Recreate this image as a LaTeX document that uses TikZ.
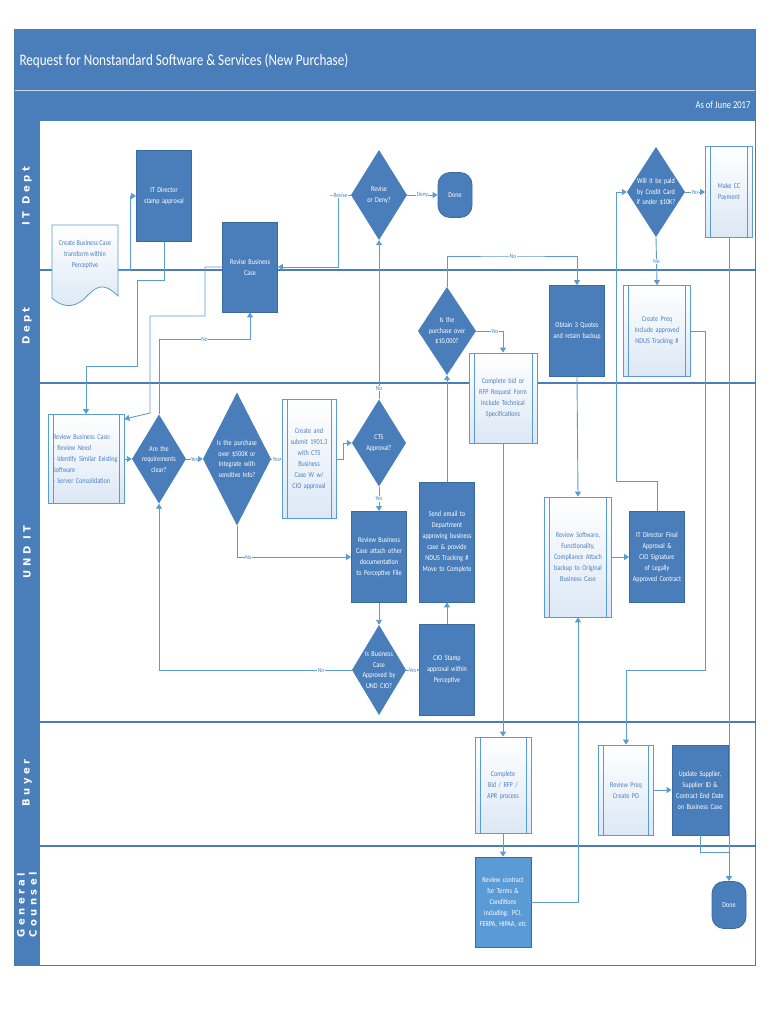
\documentclass[tikz,border=0pt]{standalone}
\usepackage{fontspec}
\setmainfont{Carlito}[FakeStretch=0.82]
\newfontfamily\lanefont{DejaVu Sans}
\usetikzlibrary{arrows.meta}
\definecolor{bar}{HTML}{4A7EBB}
\definecolor{dk}{HTML}{4A7EBB}
\definecolor{dkb}{HTML}{3A6A9F}
\definecolor{lc}{HTML}{5B9BD5}
\definecolor{ltb}{HTML}{DCE8F5}
\definecolor{txt}{HTML}{4F7FBF}
\definecolor{rcf}{HTML}{5B9BD5}
\begin{document}
\begin{tikzpicture}[x=1pt,y=-1pt,
 line/.style={draw=lc, line width=0.9pt},
 arr/.style={line, -{Triangle[width=6pt,length=5pt]}},
 lab/.style={fill=white, text=txt, font=\fontsize{6.5}{7}\selectfont, inner sep=0.5pt},
 dkbox/.style 2 args={rectangle, fill=dk, draw=dkb, line width=0.8pt, minimum width=#1, minimum height=#2, text width=#1-6pt, inner sep=1pt, text=white, align=center, font=\fontsize{7.5}{11}\selectfont},
 ltbox/.style 2 args={rectangle, draw=lc, line width=0.8pt, top color=white, bottom color=ltb, minimum width=#1, minimum height=#2, text width=#1-14pt, inner sep=1pt, text=txt, align=center, font=\fontsize{7.5}{11}\selectfont,
   path picture={\draw[lc,line width=0.7pt] ([xshift=5pt]path picture bounding box.north west) -- ([xshift=5pt]path picture bounding box.south west) ([xshift=-5pt]path picture bounding box.north east) -- ([xshift=-5pt]path picture bounding box.south east);}},
 dia/.style 2 args={rectangle, minimum width=#1, minimum height=#2, text width=#1-18pt, inner sep=0pt, text=white, align=center, font=\fontsize{7.5}{10.5}\selectfont,
   path picture={\fill[dk] (path picture bounding box.north) -- (path picture bounding box.east) -- (path picture bounding box.south) -- (path picture bounding box.west) -- cycle;}},
 term/.style 2 args={rectangle, rounded corners=12pt, fill=dk, draw=dkb, line width=0.8pt, minimum width=#1, minimum height=#2, text=white, font=\fontsize{7.5}{9}\selectfont},
 lane/.style={text=white, font=\lanefont\bfseries\fontsize{10}{12}\selectfont, rotate=90, align=center}
]
\useasboundingbox (0,0) rectangle (768,1024);
% frame and bars
\fill[bar] (14,30) rectangle (755,120);
\draw[white!70!bar, line width=0.8pt] (14,90) -- (755,90);
\fill[bar] (14,120) rectangle (40,965);
\draw[lc!80!black, line width=1pt] (14,30) rectangle (755,965);
\foreach \y in {120,270,383,722,846} \draw[bar, line width=1.3pt] (14,\y) -- (755,\y);
\node[anchor=west, text=white, font=\fontsize{16}{18}\selectfont] (title) at (16,61) {Request for Nonstandard Software \& Services (New Purchase)};
\node[anchor=east, text=white, font=\fontsize{10.5}{12}\selectfont] (asof) at (754,105) {As of June 2017};
\node[lane] (l1) at (27,196) {I T \ D e p t};
\node[lane] (l2) at (27,326) {D e p t};
\node[lane] (l3) at (27,552) {U N D \ I T};
\node[lane] (l4) at (27,783) {B u y e r};
\node[lane] (l5) at (27,905) {G e n e r a l\\C o u n s e l};

% document shape
\draw[lc, line width=0.8pt, top color=white, bottom color=ltb] (52,225) -- (118,225) -- (118,296) .. controls (102,280) and (95,288) .. (85,298) .. controls (73,310) and (60,306) .. (52,298) -- cycle;
\node[text=txt, align=center, font=\fontsize{7.5}{11}\selectfont] (cbc) at (85,255) {Create Business Case\\transform within\\Perceptive};
\coordinate (docR) at (118,270);

\node[dkbox={55pt}{91pt}] (itd) at (164,196) {IT Director\\stamp approval};
\node[dkbox={55pt}{90pt}] (rbc) at (250,267) {Revise Business\\Case};
\node[dia={56pt}{90pt}] (rod) at (379,195) {Revise or Deny?};
\node[term={34pt}{45pt}] (done1) at (455,195) {Done};
\node[dia={58pt}{90pt}] (will) at (656,192) {Will it be paid by Credit Card if under \$10K?};
\node[ltbox={47pt}{91pt}] (mcc) at (729,192) {Make CC Payment};

\node[dia={58pt}{88pt}] (p10) at (447,331) {Is the purchase over \$10,000?};
\node[dkbox={55pt}{91pt}] (obt) at (577,331) {Obtain 3 Quotes and retain backup};
\node[ltbox={67pt}{91pt}] (cpq) at (657,331) {Create Preq\\Include approved NDUS Tracking \#};
\node[ltbox={68pt}{90pt}] (cbr) at (503,398) {Complete bid or RFP Request Form Include Technical Specifications};

\node[ltbox={76pt}{89pt}, align=left, text width=66pt] (rbl) at (86,459) {Review Business Case:\\- Review Need\\- Identify Similar Existing Software\\- Server Consolidation};
\node[dia={54pt}{89pt}] (arc) at (159,459) {Are the requirements clear?};
\node[dia={68pt}{133pt}] (p500) at (237,459) {Is the purchase over \$500K or Integrate with sensitive Info?};
\node[ltbox={54pt}{119pt}] (cas) at (309,459) {Create and submit 1901.3 with CTS Business Case W w/ CIO approval};
\node[dia={54pt}{87pt}] (cts) at (379,443) {CTS Approval?};
\node[dkbox={55pt}{91pt}] (rba) at (379,557) {Review Business Case attach other documentation to Perceptive File};
\node[dkbox={55pt}{120pt}] (se) at (447,542) {Send email to Department approving business case \& provide NDUS Tracking \# Move to Complete};
\node[dia={54pt}{90pt}] (cio) at (379,670) {Is Business Case Approved by UND CIO?};
\node[dkbox={55pt}{91pt}] (cst) at (447,670) {CIO Stamp approval within Perceptive};
\node[ltbox={67pt}{120pt}] (rsw) at (578,557) {Review Software, Functionality, Compliance Attach backup to Original Business Case};
\node[dkbox={55pt}{91pt}] (itf) at (657,557) {IT Director Final Approval \& CIO Signature of Legally Approved Contract};

\node[ltbox={56pt}{96pt}] (cbp) at (503,785) {Complete Bid / RFP / APR process};
\node[ltbox={55pt}{90pt}] (rpq) at (626,790) {Review Preq\\Create PO};
\node[dkbox={56pt}{90pt}] (us) at (700,790) {Update Supplier, Supplier ID \& Contract End Date on Business Case};
\node[dkbox={56pt}{90pt}, fill=rcf] (rc) at (503,902) {Review contract for Terms \& Conditions including: PCI, FERPA, HIPAA, etc};
\node[term={34pt}{47pt}] (done2) at (729,905) {Done};

% connectors
\draw[arr] (docR) -- (130,270) |- (itd.west);
\draw[arr] (itd.south) -- (164,280) -| (137,366) -| (rbl.north);
\draw[arr] (rbc.west) -| (205,316) -| (150,413) -- ([yshift=-5pt]rbl.north east);
\draw[arr] (arc.north) |- (250,339) node[lab, pos=0.75] {No} -- (rbc.south);
\draw[arr] (rbl.east) -- (arc.west);
\draw[arr] (arc.east) -- node[lab] {Yes} (p500.west);
\draw[arr] (p500.east) -- node[lab] {Yes} (cas.west);
\draw[arr] (p500.south) |- node[lab, pos=0.55] {No} (rba.west);
\draw[arr] (cas.east) -- (343,459) |- (cts.west);
\draw[arr] (cts.south) -- node[lab] {Yes} (rba.north);
\draw[arr] (cts.north) -- node[lab, pos=0.07] {No} (rod.south);
\draw[arr] (rba.south) -- (cio.north);
\draw[arr] (cio.west) -| node[lab, pos=0.08] {No} (arc.south);
\draw[arr] (cio.east) -- node[lab] {Yes} (cst.west);
\draw[arr] (cst.north) -- (se.south);
\draw[arr] (se.north) -- (p10.south);
\draw[arr] (p10.north) |- (513,256) node[lab] {No} -| (obt.north);
\draw[arr] (p10.east) -| node[lab, pos=0.35] {Yes} (cbr.north);
\draw[arr] (rod.west) -- node[lab] {Revise} (330,195) -- (338,195) |- (rbc.east);
\draw[arr] (rod.east) -- node[lab] {Deny} (done1.west);
\draw[arr] (cbr.south) -- (cbp.north);
\draw[arr] (cbp.south) -- (rc.north);
\draw[arr] (rc.east) -| (rsw.south);
\draw[arr] (obt.south) -- (rsw.north);
\draw[arr] (rsw.east) -- (itf.west);
\draw[arr] (itf.north) |- (616,481) |- (will.west);
\draw[arr] (will.east) -- node[lab] {Yes} (mcc.west);
\draw[arr] (will.south) -- node[lab] {No} (cpq.north);
\draw[arr] (cpq.east) -| (705,670) -| (rpq.north);
\draw[arr] (rpq.east) -- (us.west);
\draw[line] (us.south) |- (729,852);
\draw[arr] (mcc.south) -- (done2.north);
\end{tikzpicture}
\end{document}
